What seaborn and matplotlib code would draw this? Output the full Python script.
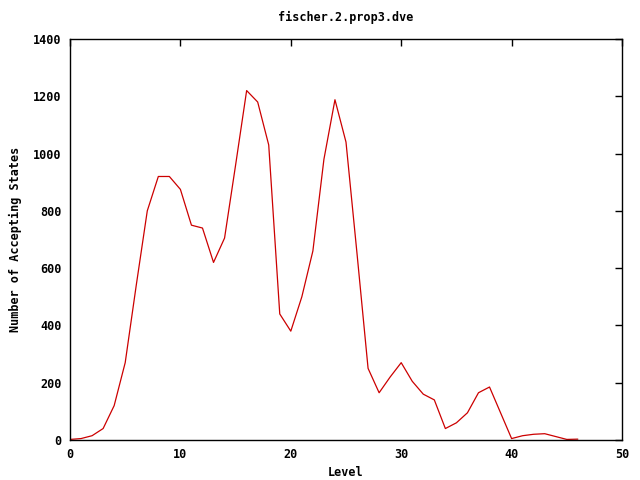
import numpy as np
import pandas as pd
import matplotlib
matplotlib.use("Agg")
import matplotlib.pyplot as plt
import seaborn as sns

# accepting states per BFS level
levels = list(range(0, 47))
accepting = [2, 5, 15, 40, 120, 270, 540, 800, 920, 920,
             875, 750, 740, 620, 705, 960, 1220, 1180, 1030, 440,
             380, 500, 660, 980, 1188, 1040, 650, 250, 165, 220,
             270, 205, 160, 140, 40, 60, 95, 165, 185, 95,
             5, 15, 20, 22, 12, 2, 3]

title = "fischer.2.prop3.dve"
xticks = [0, 10, 20, 30, 40, 50]
yticks = [0, 200, 400, 600, 800, 1000, 1200, 1400]

df = pd.DataFrame({"Level": levels, "Accepting": accepting})

sns.set_style("white")
plt.rcParams["font.family"] = ["DejaVu Sans Mono"]
plt.rcParams["font.weight"] = "bold"
plt.rcParams["text.color"] = "black"
plt.rcParams["axes.labelcolor"] = "black"

fig = plt.figure(figsize=(6.4, 4.8), dpi=100)
ax = fig.add_axes([70 / 640, 1 - 440 / 480, 552 / 640, 401 / 480])

sns.lineplot(data=df, x="Level", y="Accepting", color="#cc0000", linewidth=0.9, ax=ax)

ax.set_xlim(0, 50)
ax.set_ylim(0, 1400)
ax.set_xticks(xticks)
ax.set_yticks(yticks)
ax.tick_params(direction="in", length=5, width=1, top=True, right=True,
               labelsize=8.5, pad=6, colors="black")
for lab in ax.get_xticklabels() + ax.get_yticklabels():
    lab.set_fontweight("bold")
for spine in ax.spines.values():
    spine.set_visible(True)
    spine.set_edgecolor("black")
    spine.set_linewidth(1)

ax.set_xlabel("Level", fontsize=8.5, fontweight="bold", labelpad=3, color="black")
ax.set_ylabel("Number of Accepting States", fontsize=8.5, fontweight="bold",
              labelpad=8, color="black")
ax.set_title(title, fontsize=8.5, fontweight="bold", pad=13, color="black")

fig.savefig("out.png", dpi=100)
